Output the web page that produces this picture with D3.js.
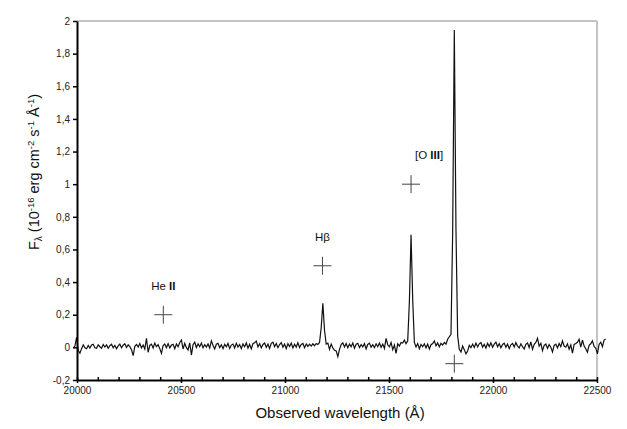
<!DOCTYPE html>
<html>
<head>
<meta charset="utf-8">
<script src="https://cdn.jsdelivr.net/npm/d3@7"></script>
<style>
  html, body { margin: 0; padding: 0; background: #fff; }
  svg { display: block; font-family: "Liberation Sans", Arial, Helvetica, sans-serif; }
</style>
</head>
<body>
<svg id="chart" width="627" height="429"></svg>
<script>
// ---------- data ----------
const waveStart = 19982;   // Å, first sample
const waveStep = 8;        // Å per sample
const flux = [
  -.003, .008, .062, -.02, -.036, -.008, .016, -.002, -.008, .012,
  -.004, .014, .019, -.002, -.006, .016, .004, -.005, .018, .002,
  .015, -.006, .01, .019, -.003, .012, -.008, .009, .02, -.002,
  .013, .022, -.001, .016, .004, -.014, -.05, .006, .018, .002,
  .024, -.003, .014, -.01, .056, -.03, .012, .02, -.004, .026,
  .004, .017, -.008, -.037, .011, .02, -.002, .023, -.003, .014,
  .019, -.008, .021, .004, .03, .045, -.01, .025, -.002, -.016,
  .028, -.047, .016, .032, -.001, .022, .004, .026, -.002, .017,
  .002, .021, -.004, .04, .012, -.01, .019, .025, -.001, .016,
  -.008, .019, .003, .024, -.007, .014, .02, -.004, .025, .002,
  .017, -.008, .021, .004, .027, -.004, .018, -.01, .022, .028,
  .038, .003, .023, -.003, .018, .027, .001, .02, -.007, .025,
  .032, .004, .024, -.002, .017, .029, .001, .021, -.008, .023,
  .005, .026, -.003, .019, .002, .028, -.001, .018, .024, -.002,
  .021, .006, .02, .008, .022, .01, .024, .018, .03, .12,
  .27, .105, .02, .026, -.012, .02, -.003, -.018, -.022, -.057,
  -.012, .017, .028, .002, .024, -.002, .02, .004, .027, -.006,
  .019, .025, -.001, .017, .003, .023, -.009, .018, .026, .001,
  .016, -.002, .022, .004, .027, .001, .02, -.007, .055, .016,
  .003, .03, -.014, .014, -.037, .022, .008, .03, .026, .045,
  .022, .04, .28, .69, .29, .03, .002, .023, -.008, .018,
  .004, .022, -.003, .02, -.01, .016, .023, .04, .009, .027,
  .003, .025, .014, .03, .02, .05, .065, .08, .7, 1.945,
  .72, .07, -.012, -.028, .008, -.014, -.04, -.022, .012, -.002,
  .02, -.001, .026, .003, .022, .03, .001, .019, -.004, .025,
  .005, .028, .001, .02, .032, .004, .023, -.002, .018, .026,
  .001, .021, -.008, .016, .024, .002, .029, .008, -.003, .022,
  .004, -.01, .019, .027, -.001, .034, -.012, .019, .03, .055,
  .008, .025, -.02, .012, .02, -.007, .017, .001, -.028, .012,
  .02, -.003, .024, .004, .04, .008, .001, .022, -.011, .015,
  -.035, .018, .024, .031, .05, .002, .045, .008, -.008, -.03,
  .013, .022, .04, .006, -.005, -.04, .018, .032, .004, .045,
  .052
];

// reference line positions (crosses) and their labels
const markerWave = [20415, 21180, 21606, 21814];
const markerFlux = [0.2, 0.5, 1.0, -0.1];
const lineLabels = [
  { text: "He ", bold: "II", tail: "", marker: 0, dx: 0 },
  { text: "H\u03B2", bold: "", tail: "", marker: 1, dx: 0 },
  { text: "[O ", bold: "III", tail: "]", marker: 2, dx: 18 }
];

const xMajorTicks = [20000, 20500, 21000, 21500, 22000, 22500];
const xMinorTicks = d3.range(20000, 22501, 100);
const yTicks = [-0.2, 0, 0.2, 0.4, 0.6, 0.8, 1, 1.2, 1.4, 1.6, 1.8, 2];
const yTickLabels = ["-0,2", "0", "0,2", "0,4", "0,6", "0,8", "1", "1,2", "1,4", "1,6", "1,8", "2"];

// ---------- scales ----------
const svg = d3.select("#chart");
const x = d3.scaleLinear().domain([20000, 22500]).range([77, 597]);
const y = d3.scaleLinear().domain([-0.2, 2]).range([380, 21]);

// frame (top & right, grey)
svg.append("line").attr("x1", x(20000)).attr("x2", x(22500)).attr("y1", y(2)).attr("y2", y(2))
  .attr("stroke", "#b0b0b0").attr("stroke-width", 1.5);
svg.append("line").attr("x1", x(22500)).attr("x2", x(22500)).attr("y1", y(2)).attr("y2", y(-0.2))
  .attr("stroke", "#b0b0b0").attr("stroke-width", 1.5);

// spectrum
const line = d3.line()
  .x((d, i) => x(waveStart + i * waveStep))
  .y(d => y(d));
svg.append("path").datum(flux)
  .attr("d", line)
  .attr("fill", "none")
  .attr("stroke", "#111")
  .attr("stroke-width", 1.2)
  .attr("stroke-linejoin", "miter");

// crosses
const crossG = svg.append("g").attr("stroke", "#444").attr("stroke-width", 1);
markerWave.forEach((w, i) => {
  const cx = x(w), cy = y(markerFlux[i]);
  crossG.append("line").attr("x1", cx - 9).attr("x2", cx + 9).attr("y1", cy).attr("y2", cy);
  crossG.append("line").attr("x1", cx).attr("x2", cx).attr("y1", cy - 9).attr("y2", cy + 9);
});

// labels
lineLabels.forEach(l => {
  const t = svg.append("text")
    .attr("x", x(markerWave[l.marker]) + l.dx)
    .attr("y", y(markerFlux[l.marker]) - 25)
    .attr("text-anchor", "middle")
    .attr("font-size", 11.5)
    .attr("fill", "#111");
  t.append("tspan").text(l.text);
  if (l.bold) t.append("tspan").attr("font-weight", "bold").text(l.bold);
  if (l.tail) t.append("tspan").text(l.tail);
});

// x axis
const xMinor = svg.append("g").attr("transform", `translate(0,${y(-0.2)})`)
  .call(d3.axisBottom(x).tickValues(xMinorTicks).tickSize(-3).tickFormat(""));
xMinor.select(".domain").remove();
xMinor.selectAll(".tick line").attr("stroke", "#000").attr("stroke-width", 1.5);

const xAxis = svg.append("g").attr("transform", `translate(0,${y(-0.2)})`)
  .call(d3.axisBottom(x).tickValues(xMajorTicks).tickSizeInner(3).tickSizeOuter(0).tickPadding(4)
    .tickFormat(d3.format("d")));
xAxis.select(".domain").attr("stroke", "#000").attr("stroke-width", 2);
xAxis.selectAll(".tick line").attr("stroke", "#000").attr("stroke-width", 1.5);
xAxis.selectAll(".tick text").attr("font-size", 10).attr("fill", "#222")
  .style("font-family", "'Liberation Sans', Arial, sans-serif");

// y axis
const yAxis = svg.append("g").attr("transform", `translate(${x(20000)},0)`)
  .call(d3.axisLeft(y).tickValues(yTicks).tickSizeInner(4).tickSizeOuter(0).tickPadding(3)
    .tickFormat((d, i) => yTickLabels[i]));
yAxis.select(".domain").attr("stroke", "#000").attr("stroke-width", 2);
yAxis.selectAll(".tick line").attr("stroke", "#000").attr("stroke-width", 1.5);
yAxis.selectAll(".tick text").attr("font-size", 10).attr("fill", "#222")
  .style("font-family", "'Liberation Sans', Arial, sans-serif");

// axis titles
svg.append("text")
  .attr("x", 340).attr("y", 418)
  .attr("text-anchor", "middle")
  .attr("font-size", 15)
  .attr("fill", "#111")
  .text("Observed wavelength (\u00C5)");

const yt = svg.append("text")
  .attr("transform", "translate(39,172) rotate(-90)")
  .attr("text-anchor", "middle")
  .attr("font-size", 14.5)
  .attr("fill", "#111");
yt.append("tspan").text("F");
yt.append("tspan").attr("font-size", 10).attr("dy", 3).text("\u03BB");
yt.append("tspan").attr("dy", -3).text(" (10");
yt.append("tspan").attr("font-size", 9.5).attr("dy", -5).text("-16");
yt.append("tspan").attr("dy", 5).text(" erg cm");
yt.append("tspan").attr("font-size", 9.5).attr("dy", -5).text("-2");
yt.append("tspan").attr("dy", 5).text(" s");
yt.append("tspan").attr("font-size", 9.5).attr("dy", -5).text("-1");
yt.append("tspan").attr("dy", 5).text(" \u00C5");
yt.append("tspan").attr("font-size", 9.5).attr("dy", -5).text("-1");
yt.append("tspan").attr("dy", 5).text(")");
</script>
</body>
</html>
